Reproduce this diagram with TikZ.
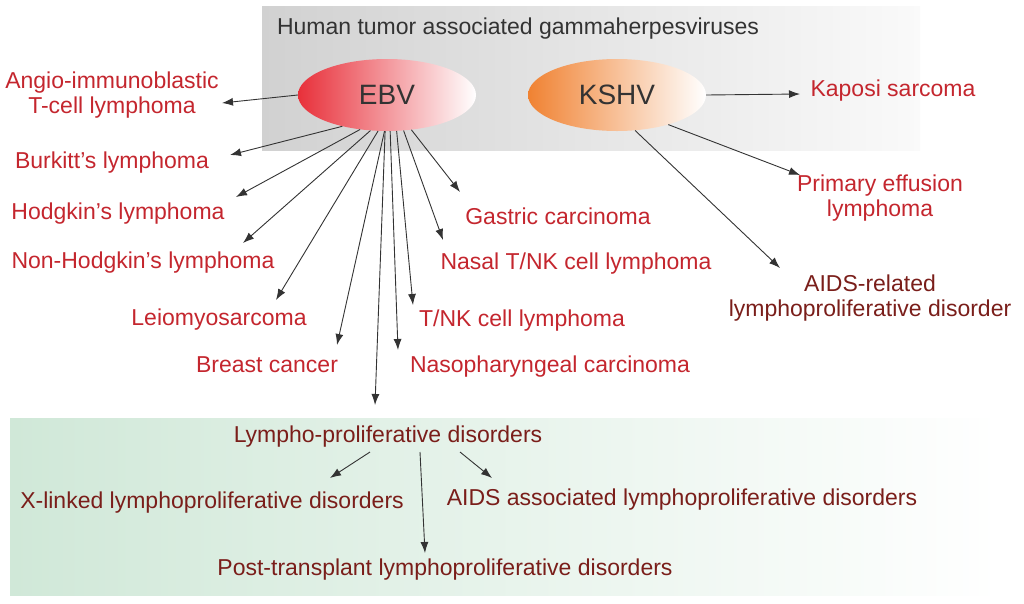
\documentclass[tikz,border=0pt]{standalone}
\usepackage{fontspec}
\setmainfont{Liberation Sans}
\usetikzlibrary{shapes.geometric,arrows.meta}
\definecolor{lab}{HTML}{C4262E}
\definecolor{dlab}{HTML}{7A1E1A}
\definecolor{ln}{HTML}{333333}
\begin{document}
\begin{tikzpicture}[x=1pt,y=-1pt,
  lbl/.style={text=lab,font=\fontsize{23}{25}\selectfont,align=center,inner sep=0},
  dl/.style={text=dlab,font=\fontsize{23}{25}\selectfont,align=center,inner sep=0},
  ar/.style={draw=ln,line width=0.9pt,-{Latex[length=11pt,width=8pt]}},
  vir/.style={ellipse,minimum width=178pt,minimum height=72pt,inner sep=0,text=ln,font=\fontsize{28}{30}\selectfont}]
\useasboundingbox (0,0) rectangle (1024,603);
\shade[left color=black!18,right color=black!2] (262,6) rectangle (920,150);
\shade[left color={rgb,255:red,208;green,232;blue,216},right color=white] (10,418) rectangle (1000,595);
\node[text=ln,font=\fontsize{23}{25}\selectfont,inner sep=0] (title) at (518,29) {Human tumor associated gammaherpesviruses};
\node[vir,left color={rgb,255:red,232;green,48;blue,58},right color=white] (ebv) at (387,95) {EBV};
\node[vir,left color={rgb,255:red,240;green,130;blue,50},right color=white] (kshv) at (617,95) {KSHV};
% EBV targets
\node[lbl] (angio) at (112,95) {Angio-immunoblastic\\T-cell lymphoma};
\node[lbl] (burk) at (112,163) {Burkitt’s lymphoma};
\node[lbl] (hodg) at (118,214) {Hodgkin’s lymphoma};
\node[lbl] (nonh) at (143,263) {Non-Hodgkin’s lymphoma};
\node[lbl] (leio) at (219,320) {Leiomyosarcoma};
\node[lbl] (breast) at (267,365) {Breast cancer};
\node[lbl] (naso) at (550,367) {Nasopharyngeal carcinoma};
\node[lbl] (tnk) at (522,321) {T/NK cell lymphoma};
\node[lbl] (nasal) at (576,264) {Nasal T/NK cell lymphoma};
\node[lbl] (gast) at (558,216) {Gastric carcinoma};
% KSHV targets
\node[lbl] (kap) at (893,91) {Kaposi sarcoma};
\node[lbl] (pel) at (880,198) {Primary effusion\\lymphoma};
\node[dl] (aids) at (870,298) {AIDS-related\\lymphoproliferative disorder};
% bottom
\node[dl] (lpd) at (388,437) {Lympho-proliferative disorders};
\node[dl] (xl) at (212,503) {X-linked lymphoproliferative disorders};
\node[dl] (aidsa) at (682,500) {AIDS associated lymphoproliferative disorders};
\node[dl] (ptld) at (445,570) {Post-transplant lymphoproliferative disorders};
% arrow coordinates
\coordinate (e1) at (222,103); \coordinate (e2) at (230,155);
\coordinate (e3) at (236,197); \coordinate (e4) at (243,243);
\coordinate (e5) at (276,300); \coordinate (e6) at (337,345);
\coordinate (e7) at (375,405); \coordinate (e8) at (398,350);
\coordinate (e9) at (413,305); \coordinate (e10) at (443,240);
\coordinate (e11) at (460,192);
\draw[ar] (ebv.180) -- (e1);
\draw[ar] (ebv.215) -- (e2);
\draw[ar] (ebv.232) -- (e3);
\draw[ar] (ebv.245) -- (e4);
\draw[ar] (ebv.256) -- (e5);
\draw[ar] (ebv.266) -- (e6);
\draw[ar] (ebv.267.5) -- (e7);
\draw[ar] (ebv.275) -- (e8);
\draw[ar] (ebv.285) -- (e9);
\draw[ar] (ebv.295) -- (e10);
\draw[ar] (ebv.305) -- (e11);
\coordinate (k1) at (800,94); \coordinate (k2) at (800,175); \coordinate (k3) at (780,268);
\draw[ar] (kshv.0) -- (k1);
\draw[ar] (kshv.330) -- (k2);
\draw[ar] (kshv.297) -- (k3);
\coordinate (b1) at (330,478); \coordinate (b2) at (425,553); \coordinate (b3) at (492,478);
\coordinate (s1) at (370,452); \coordinate (s2) at (420,452); \coordinate (s3) at (460,452);
\draw[ar] (s1) -- (b1);
\draw[ar] (s2) -- (b2);
\draw[ar] (s3) -- (b3);
\end{tikzpicture}
\end{document}
